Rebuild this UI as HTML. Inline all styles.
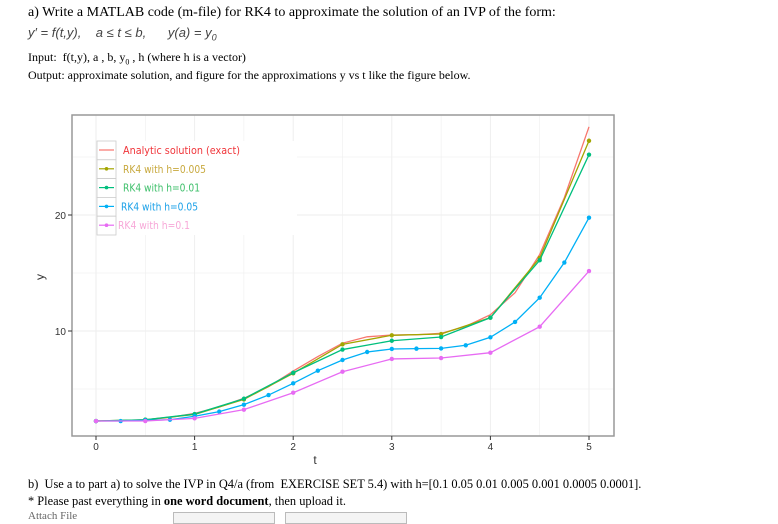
<!DOCTYPE html>
<html><head><meta charset="utf-8"><style>
body{margin:0;width:778px;height:516px;background:#fff;font-family:"Liberation Serif",serif;color:#000;position:relative;overflow:hidden}
.t{position:absolute;white-space:nowrap}
</style></head><body>
<div class="t" style="left:28px;top:5px;font-size:14px">a) Write a MATLAB code (m-file) for RK4 to approximate the solution of an IVP of the form:</div>
<div class="t" style="left:28px;top:25px;font-size:13px;font-family:'Liberation Sans',sans-serif;font-style:italic;color:#444">y′ = f(t,y),&nbsp;&nbsp;&nbsp; a ≤ t ≤ b,&nbsp;&nbsp;&nbsp;&nbsp;&nbsp; y(a) = y<sub style="font-size:9px">0</sub></div>
<div class="t" style="left:28px;top:50px;font-size:12px">Input:&nbsp; f(t,y), a , b, y<sub style="font-size:8px">0</sub> , h (where h is a vector)</div>
<div class="t" style="left:28px;top:68px;font-size:12px">Output: approximate solution, and figure for the approximations y vs t like the figure below.</div>
<div class="t" style="left:28px;top:477px;font-size:12.4px">b)&nbsp; Use a to part a) to solve the IVP in Q4/a (from&nbsp; EXERCISE SET 5.4) with h=[0.1 0.05 0.01 0.005 0.001 0.0005 0.0001].</div>
<div class="t" style="left:28px;top:494px;font-size:12.4px">* Please past everything in <b>one word document</b>, then upload it.</div>
<div class="t" style="left:28px;top:510px;font-size:11px;color:#666">Attach File</div>
<div style="position:absolute;left:173px;top:512px;width:100px;height:10px;border:1px solid #bbb;background:#f4f4f4"></div>
<div style="position:absolute;left:285px;top:512px;width:120px;height:10px;border:1px solid #bbb;background:#f4f4f4"></div>
<svg id="chart" width="778" height="516" style="position:absolute;left:0;top:0" xmlns="http://www.w3.org/2000/svg"></svg>
<script>
const seriesNames=["Analytic solution (exact)","RK4 with h=0.005","RK4 with h=0.01","RK4 with h=0.05","RK4 with h=0.1"];
const seriesColors=["#F8766D","#A3A500","#00BF7D","#00B0F6","#E76BF3"];
const exactT=[0,0.25,0.5,0.75,1,1.25,1.5,1.75,2,2.25,2.5,2.75,3,3.25,3.5,3.75,4,4.25,4.5,4.75,5];
const exactY=[2.24,2.26,2.35,2.55,2.9,3.45,4.2,5.2,6.55,7.8,8.95,9.5,9.65,9.68,9.8,10.4,11.4,13.3,16.6,21.5,27.6];
const halfT=[0,0.5,1,1.5,2,2.5,3,3.5,4,4.5,5];
const h005Y=[2.24,2.35,2.8,4.1,6.35,8.85,9.63,9.74,11.15,16.3,26.4];
const h01Y=[2.24,2.35,2.84,4.16,6.4,8.4,9.16,9.48,11.15,16.1,25.2];
const quarterT=[0,0.25,0.5,0.75,1,1.25,1.5,1.75,2,2.25,2.5,2.75,3,3.25,3.5,3.75,4,4.25,4.5,4.75,5];
const h05Y=[2.24,2.24,2.3,2.35,2.65,3.05,3.65,4.48,5.49,6.58,7.5,8.19,8.45,8.48,8.5,8.77,9.46,10.78,12.87,15.9,19.77];
const h1Y=[2.24,2.24,2.47,3.22,4.68,6.49,7.59,7.67,8.13,10.37,15.17];
const xTicks=[0,1,2,3,4,5];
const yTicks=[10,20];
const svg=document.getElementById('chart');const NS='http://www.w3.org/2000/svg';
const L=72,R=614,T=115,B=436;
const xs=v=>96+v*98.6, ys=v=>447-v*11.6;
function mk(tag,attrs,parent){const e=document.createElementNS(NS,tag);for(const k in attrs)e.setAttribute(k,attrs[k]);(parent||svg).appendChild(e);return e;}
const panel=mk('rect',{x:L,y:T,width:R-L,height:B-T,fill:'#fff'});


for(let v=0;v<=5;v+=0.5){const g=mk('line',{x1:xs(v),x2:xs(v),y1:T,y2:B,stroke:'#eee','stroke-width':v%1?0.6:1});

}
for(let v=5;v<=25;v+=5){const g=mk('line',{x1:L,x2:R,y1:ys(v),y2:ys(v),stroke:'#eee','stroke-width':v%10?0.6:1});

}
const bord=mk('rect',{x:L,y:T,width:R-L,height:B-T,fill:'none',stroke:'#999','stroke-width':1.5});


xTicks.forEach(v=>{mk('line',{x1:xs(v),x2:xs(v),y1:B,y2:B+4,stroke:'#333'});
const t=mk('text',{x:xs(v),y:B+14,'text-anchor':'middle','font-size':10,fill:'#333','font-family':'Liberation Sans,sans-serif'});t.textContent=v;

});
yTicks.forEach(v=>{mk('line',{x1:L-4,x2:L,y1:ys(v),y2:ys(v),stroke:'#333'});
const t=mk('text',{x:L-6,y:ys(v)+4,'text-anchor':'end','font-size':10,fill:'#333','font-family':'Liberation Sans,sans-serif'});t.textContent=v;

});
const xt=mk('text',{x:315,y:464,'text-anchor':'middle','font-size':12,fill:'#333','font-family':'Liberation Sans,sans-serif'});xt.textContent='t';


const yt=mk('text',{x:44,y:277,'text-anchor':'middle','font-size':12,fill:'#333','font-family':'Liberation Sans,sans-serif',transform:'rotate(-90 44 277)'});yt.textContent='y';


function series(tArr,yArr,col,pts,name){
 const p=mk('polyline',{points:tArr.map((t,i)=>xs(t)+','+ys(yArr[i])).join(' '),fill:'none',stroke:col,'stroke-width':1.3});
 
 
 if(pts)tArr.forEach((t,i)=>{const c=mk('circle',{cx:xs(t),cy:ys(yArr[i]),r:2.2,fill:col});
 
 });
}
series(exactT,exactY,seriesColors[0],false,'exact');
series(halfT,h005Y,seriesColors[1],true,'rk4-h0005');
series(halfT,h01Y,seriesColors[2],true,'rk4-h001');
series(quarterT,h05Y,seriesColors[3],true,'rk4-h005');
series(halfT,h1Y,seriesColors[4],true,'rk4-h01');
const textCols=["#F0353A","#C8A93E","#3DBF6A","#1AA0E8","#F7A8D8"];
const lg=mk('rect',{x:97,y:141,width:200,height:94,fill:'#fff'});


seriesNames.forEach((n,i)=>{const y=150+i*18.8;
 mk('rect',{x:97,y:y-9,width:19,height:18.8,fill:'#fff',stroke:'#ccc','stroke-width':0.8});
 mk('line',{x1:99,x2:114,y1:y,y2:y,stroke:seriesColors[i],'stroke-width':1.2});
 if(i>0)mk('circle',{cx:106.5,cy:y,r:1.8,fill:seriesColors[i]});
 const t=mk('text',{x:i==4?118:(i==3?121:123),y:y+4,'font-size':11,fill:textCols[i],'font-family':'DejaVu Sans,sans-serif','textLength':i==0?117:(i==1?83:(i==2?77:(i==3?77:72))),'lengthAdjust':'spacingAndGlyphs'});t.textContent=n;
 
 
});
</script>
</body></html>
